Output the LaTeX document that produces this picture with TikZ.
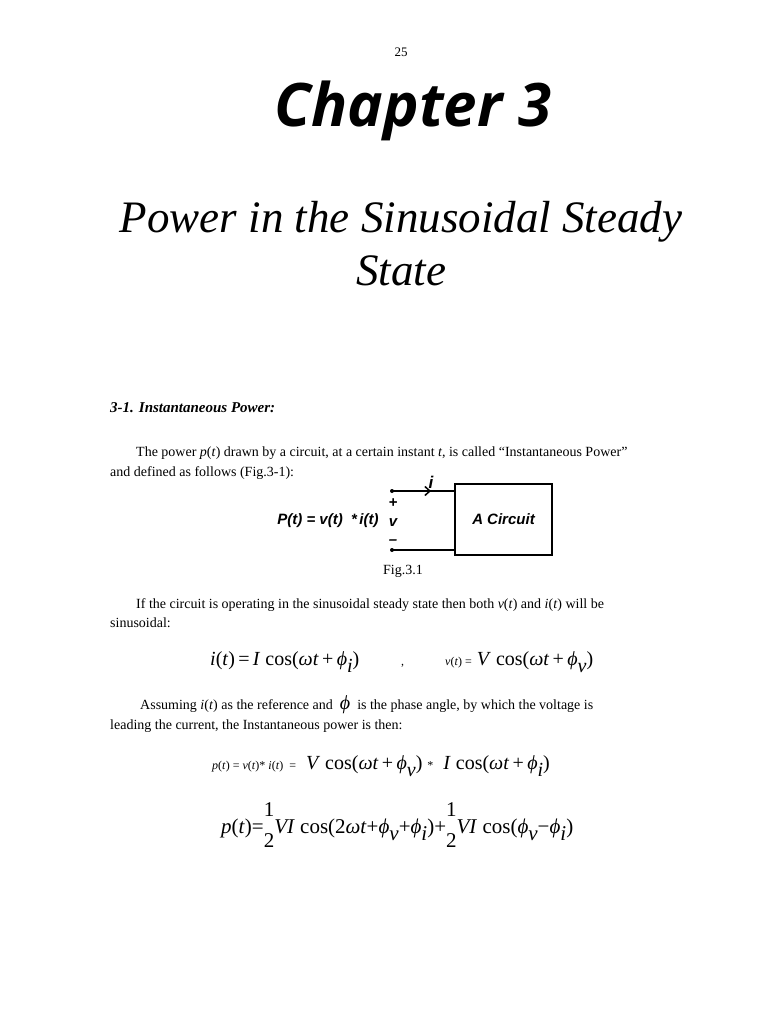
\documentclass[tikz,border=0pt]{standalone}
\usepackage{fontspec}
\setmainfont{Liberation Serif}
\newfontfamily\hsans{Liberation Sans}
\newfontfamily\chapfont{Open Sans}
\usetikzlibrary{arrows.meta}
\newcommand{\sbs}[1]{\raisebox{-0.35em}{\textit{#1}}}
\newcommand{\fs}[1]{\fontsize{#1}{#1}\selectfont}
\newcommand{\hf}{$\vcenter{\hbox{\fs{21}\begin{tabular}{@{}c@{}}1\\[10pt]2\end{tabular}}}$}
\begin{document}
\begin{tikzpicture}[x=1pt,y=-1pt,
  txt/.style={inner sep=0pt,anchor=base west,font=\fs{14}},
  eq/.style={inner sep=0pt,anchor=base west,font=\fs{20}},
  fig/.style={inner sep=0pt,font=\hsans\bfseries\itshape\fs{15}},
  wire/.style={line width=1.8pt}]
\useasboundingbox[fill=white] (0,0) rectangle (768,1024);
\node[inner sep=0pt,font=\fs{13}] (pg) at (401,52) {25};
\node[inner sep=0pt,font=\chapfont\bfseries\itshape\fs{60}] (ch) at (413,111) {Chapter 3};
\node[inner sep=0pt,font=\itshape\fs{45}] (t1) at (401,222) {Power in the Sinusoidal Steady};
\node[inner sep=0pt,font=\itshape\fs{45}] (t2) at (401,271) {State};
\node[txt,font=\bfseries\itshape\fs{15}] (sec) at (110,412) {3-1. Instantaneous Power:};
\node[txt] (p1) at (136,456) {The power \textit{p}(\textit{t}) drawn by a circuit, at a certain instant \textit{t}, is called “Instantaneous Power"};
\node[txt] (p2) at (110,476) {and defined as follows (Fig.3-1):};
% figure
\node[fig] (eqf) at (328,521) {P(t) = v(t) \ *\,i(t)};
\node[fig] (vv) at (393,523) {v};
\node[fig] (pl) at (393,503) {+};
\node[fig] (mi) at (393,542) {–};
\node[draw,line width=1.5pt,minimum width=97pt,minimum height=71pt,inner sep=0pt,font=\hsans\bfseries\itshape\fs{15}] (box) at (503.5,519.5) {A Circuit};
\coordinate (ta) at (392,491);
\coordinate (ba) at (392,550);
\coordinate (tb) at (455,491);
\coordinate (bb) at (455,550);
\fill (ta) circle (2pt) (ba) circle (2pt);
\draw[wire] (ta) -- (tb);
\draw[wire] (ba) -- (bb);
\coordinate (ar) at (431,491);
\draw[line width=1.5pt,-{Straight Barb[length=5pt,width=9pt]}] (418,491) -- (ar);
\node[fig,font=\hsans\bfseries\itshape\fs{17}] (il) at (431,482) {i};
\node[inner sep=0pt,font=\fs{14}] (cap) at (403,571) {Fig.3.1};
\node[txt] (p3) at (136,608) {If the circuit is operating in the sinusoidal steady state then both \textit{v}(\textit{t}) and \textit{i}(\textit{t}) will be};
\node[txt] (p4) at (110,627) {sinusoidal:};
\node[eq] (e1) at (210,665) {\textit{i}(\textit{t})\,=\,\textit{I} cos(\textit{ωt}\,+\,\textit{ϕ}\sbs{i})};
\node[txt,font=\fs{12}] (cm) at (401,665) {,};
\node[eq] (e2) at (445,665) {{\fs{12}\textit{v}(\textit{t}) =} \textit{V} cos(\textit{ωt}\,+\,\textit{ϕ}\sbs{v})};
\node[txt] (p5) at (140,709) {Assuming \textit{i}(\textit{t}) as the reference and \ \textit{\fs{20}ϕ} \ is the phase angle, by which the voltage is};
\node[txt] (p6) at (110,729) {leading the current, the Instantaneous power is then:};
\node[eq] (e3) at (212,769) {{\fs{12}\textit{p}(\textit{t}) = \textit{v}(\textit{t})* \textit{i}(\textit{t}) \ =} \ \textit{V} cos(\textit{ωt}\,+\,\textit{ϕ}\sbs{v}) {\fs{12}*} \ \textit{I} cos(\textit{ωt}\,+\,\textit{ϕ}\sbs{i})};
\node[eq,font=\fs{21}] (e4) at (221,833) {\textit{p}(\textit{t})=\hf\textit{VI} cos(2\textit{ωt}+\textit{ϕ}\sbs{v}+\textit{ϕ}\sbs{i})+\hf\textit{VI} cos(\textit{ϕ}\sbs{v}−\textit{ϕ}\sbs{i})};
\end{tikzpicture}
\end{document}
